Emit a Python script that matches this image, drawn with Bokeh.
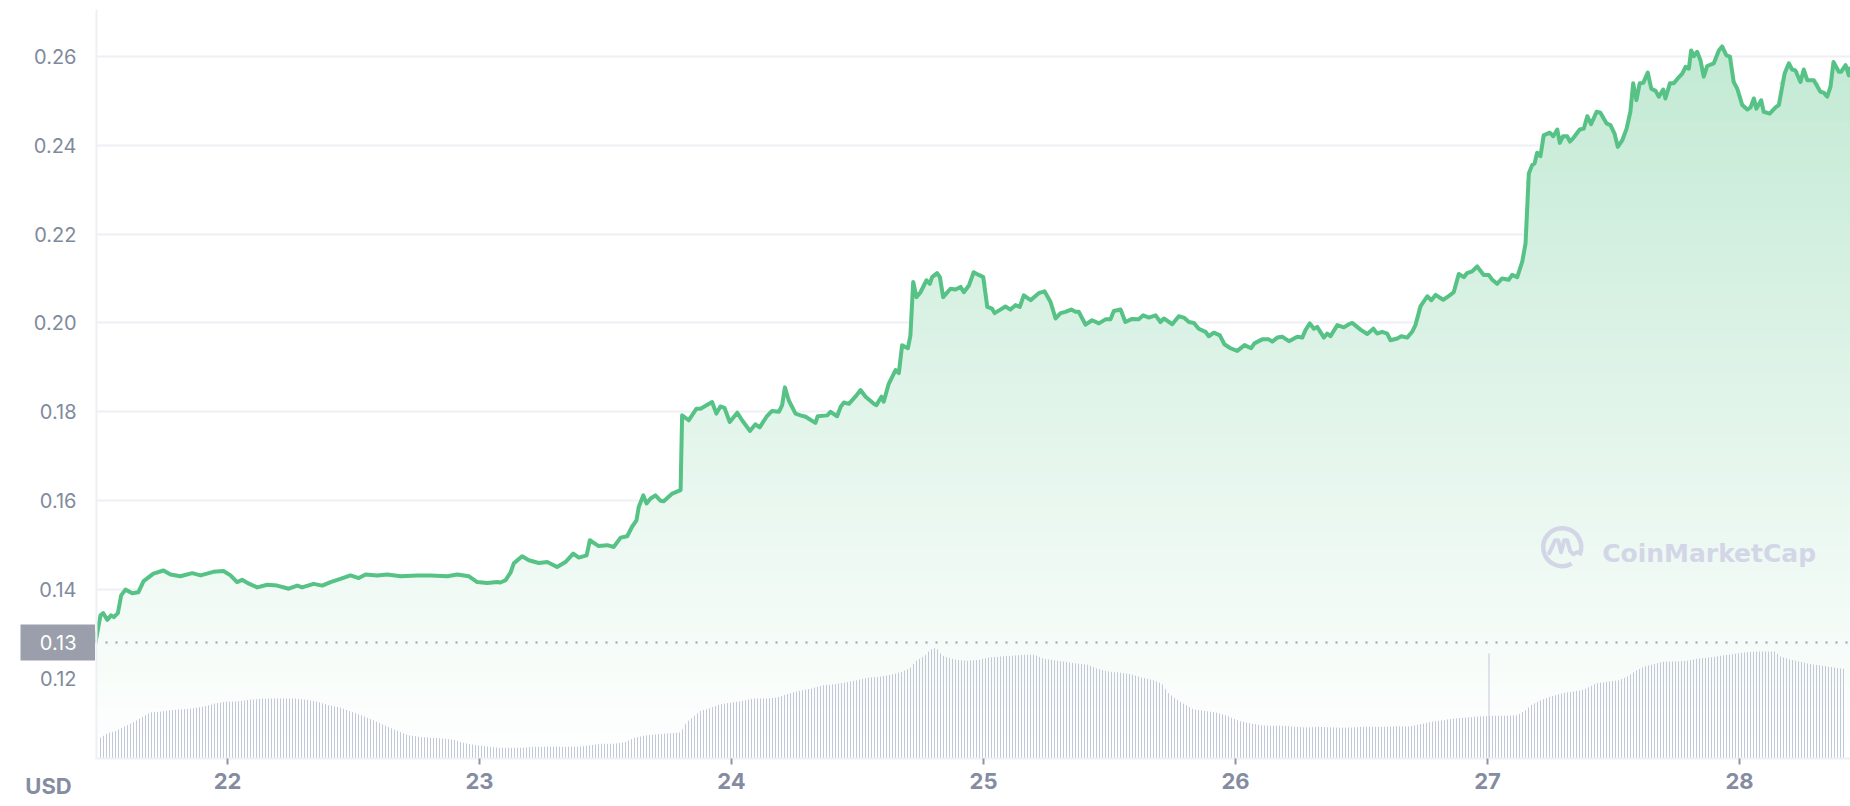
import numpy as np
from bokeh.plotting import figure
from bokeh.layouts import row
from bokeh.models import Range1d, FixedTicker, PrintfTickFormatter, Span, Label
from bokeh.core.properties import value
from bokeh.embed import file_html
from bokeh.resources import INLINE

# ---------------- data (day of month, price in USD) ----------------
price_t = [
    21.476, 21.496, 21.507, 21.523, 21.538, 21.549, 21.565, 21.578, 21.595, 21.622,
    21.646, 21.667, 21.706, 21.746, 21.774, 21.813, 21.860, 21.893, 21.944, 21.984,
    22.012, 22.038, 22.058, 22.083, 22.118, 22.158, 22.197, 22.243, 22.277, 22.296,
    22.342, 22.376, 22.409, 22.448, 22.488, 22.521, 22.548, 22.594, 22.634, 22.687,
    22.753, 22.806, 22.872, 22.912, 22.958, 22.991, 23.031, 23.070,
    23.083, 23.103, 23.123, 23.136, 23.169, 23.196, 23.235, 23.269, 23.308, 23.341,
    23.372, 23.394, 23.425, 23.438, 23.473, 23.507, 23.533, 23.560, 23.586, 23.606,
    23.623, 23.632, 23.650, 23.663, 23.679, 23.698, 23.718, 23.731, 23.765, 23.798,
    23.804, 23.830, 23.861, 23.877, 23.923, 23.940, 23.956, 23.972, 23.993, 24.023,
    24.042, 24.073, 24.095, 24.112, 24.139, 24.161, 24.188, 24.201, 24.212, 24.227,
    24.254, 24.274, 24.294, 24.333, 24.342, 24.380, 24.393, 24.419, 24.433,
    24.446, 24.466, 24.496, 24.512, 24.532, 24.565, 24.575, 24.595, 24.604, 24.624,
    24.651, 24.664, 24.677, 24.700, 24.710, 24.721, 24.734, 24.750, 24.774, 24.787,
    24.796, 24.816, 24.827, 24.840, 24.869, 24.889, 24.909, 24.922, 24.942, 24.961,
    24.981, 24.999, 25.015, 25.034, 25.044, 25.067, 25.087, 25.107, 25.127, 25.144,
    25.160, 25.187, 25.219, 25.242, 25.266, 25.286, 25.306, 25.325, 25.348, 25.365,
    25.378, 25.405, 25.431, 25.458, 25.484, 25.504, 25.517, 25.544, 25.563, 25.590,
    25.616, 25.634, 25.656, 25.683, 25.702,
    25.716, 25.749, 25.775, 25.795, 25.815, 25.835, 25.854, 25.881, 25.894, 25.914,
    25.938, 25.956, 25.980, 26.007, 26.036, 26.062, 26.075, 26.106, 26.132, 26.146,
    26.166, 26.185, 26.212, 26.245, 26.265, 26.278, 26.295, 26.311, 26.324, 26.351,
    26.364, 26.377, 26.404, 26.430, 26.450, 26.463, 26.496, 26.523, 26.547, 26.562,
    26.582, 26.602, 26.615, 26.642, 26.658, 26.681, 26.701, 26.714, 26.734, 26.761,
    26.777, 26.794, 26.824, 26.847, 26.866, 26.886, 26.906, 26.919, 26.939, 26.959,
    26.985, 27.005, 27.019, 27.038, 27.058, 27.084, 27.098, 27.118, 27.138, 27.151,
    27.164, 27.177, 27.187, 27.197, 27.210, 27.223, 27.247, 27.261, 27.277, 27.287,
    27.300, 27.316, 27.327, 27.342, 27.366, 27.382, 27.396, 27.411, 27.433, 27.448,
    27.472, 27.488, 27.504, 27.517, 27.535, 27.552, 27.567, 27.578, 27.591, 27.604,
    27.618, 27.636, 27.650, 27.667, 27.680, 27.697, 27.706, 27.724, 27.739, 27.755,
    27.773, 27.786, 27.799, 27.808, 27.819, 27.832, 27.845, 27.858, 27.872, 27.898,
    27.918, 27.931, 27.948, 27.962, 27.977, 27.991, 28.011, 28.031, 28.044, 28.057,
    28.067, 28.086, 28.096, 28.120, 28.143, 28.156, 28.179, 28.196, 28.209, 28.222,
    28.242, 28.255, 28.269, 28.295, 28.321, 28.334, 28.348, 28.361, 28.373, 28.394,
    28.403, 28.421, 28.434, 28.440,
]
price_v = [
    0.1281, 0.1342, 0.1347, 0.1332, 0.1342, 0.1338, 0.1347, 0.1387, 0.1400, 0.1392,
    0.1394, 0.1419, 0.1436, 0.1443, 0.1434, 0.1430, 0.1437, 0.1432, 0.1440, 0.1442,
    0.1432, 0.1417, 0.1422, 0.1414, 0.1405, 0.1411, 0.1409, 0.1402, 0.1409, 0.1405,
    0.1413, 0.1409, 0.1417, 0.1424, 0.1432, 0.1426, 0.1434, 0.1432, 0.1434, 0.1430,
    0.1432, 0.1432, 0.1430, 0.1434, 0.1430, 0.1417, 0.1415, 0.1417,
    0.1416, 0.1421, 0.1438, 0.1459, 0.1475, 0.1466, 0.1460, 0.1462, 0.1451, 0.1462,
    0.1481, 0.1472, 0.1477, 0.1511, 0.1498, 0.1500, 0.1496, 0.1517, 0.1520, 0.1542,
    0.1556, 0.1586, 0.1612, 0.1594, 0.1605, 0.1612, 0.1600, 0.1599, 0.1616, 0.1624,
    0.1792, 0.1781, 0.1807, 0.1807, 0.1822, 0.1796, 0.1812, 0.1809, 0.1777, 0.1798,
    0.1781, 0.1757, 0.1772, 0.1765, 0.1789, 0.1802, 0.1800, 0.1815, 0.1855, 0.1826,
    0.1796, 0.1792, 0.1789, 0.1775, 0.1790, 0.1792, 0.1800, 0.1790, 0.1811,
    0.1821, 0.1818, 0.1837, 0.1849, 0.1834, 0.1818, 0.1815, 0.1834, 0.1823, 0.1863,
    0.1894, 0.1887, 0.1950, 0.1943, 0.1972, 0.2092, 0.2058, 0.2069, 0.2096, 0.2088,
    0.2103, 0.2112, 0.2103, 0.2058, 0.2077, 0.2075, 0.2081, 0.2069, 0.2084, 0.2114,
    0.2108, 0.2103, 0.2036, 0.2032, 0.2022, 0.2030, 0.2037, 0.2030, 0.2040, 0.2036,
    0.2062, 0.2051, 0.2067, 0.2071, 0.2047, 0.2010, 0.2022, 0.2025, 0.2030, 0.2025,
    0.2025, 0.1996, 0.2006, 0.1999, 0.2008, 0.2008, 0.2027, 0.2030, 0.2002, 0.2009,
    0.2008, 0.2017, 0.2012, 0.2017, 0.2002,
    0.2010, 0.1997, 0.2015, 0.2012, 0.2002, 0.2000, 0.1987, 0.1980, 0.1970, 0.1978,
    0.1972, 0.1952, 0.1943, 0.1937, 0.1950, 0.1943, 0.1954, 0.1963, 0.1963, 0.1958,
    0.1967, 0.1969, 0.1959, 0.1969, 0.1967, 0.1984, 0.1999, 0.1987, 0.1991, 0.1967,
    0.1976, 0.1970, 0.1995, 0.1990, 0.1997, 0.2000, 0.1985, 0.1975, 0.1987, 0.1976,
    0.1980, 0.1976, 0.1961, 0.1965, 0.1970, 0.1967, 0.1980, 0.1995, 0.2037, 0.2060,
    0.2051, 0.2063, 0.2052, 0.2061, 0.2069, 0.2110, 0.2103, 0.2112, 0.2116, 0.2127,
    0.2108, 0.2108, 0.2097, 0.2088, 0.2100, 0.2097, 0.2108, 0.2103, 0.2138, 0.2179,
    0.2336, 0.2355, 0.2359, 0.2383, 0.2375, 0.2422, 0.2428, 0.2420, 0.2435, 0.2405,
    0.2420, 0.2420, 0.2408, 0.2417, 0.2435, 0.2437, 0.2465, 0.2447, 0.2475, 0.2473,
    0.2449, 0.2445, 0.2426, 0.2396, 0.2411, 0.2437, 0.2475, 0.2539, 0.2501, 0.2539,
    0.2540, 0.2563, 0.2527, 0.2522, 0.2509, 0.2525, 0.2505, 0.2539, 0.2539, 0.2550,
    0.2561, 0.2576, 0.2572, 0.2613, 0.2600, 0.2610, 0.2591, 0.2554, 0.2578, 0.2584,
    0.2613, 0.2622, 0.2602, 0.2599, 0.2542, 0.2527, 0.2490, 0.2480, 0.2485, 0.2505,
    0.2482, 0.2501, 0.2475, 0.2471, 0.2485, 0.2490, 0.2561, 0.2584, 0.2570, 0.2568,
    0.2542, 0.2570, 0.2546, 0.2546, 0.2520, 0.2518, 0.2509, 0.2531, 0.2587, 0.2565,
    0.2565, 0.2580, 0.2557, 0.2576,
]

# 24h volume (relative units)
vol_t = [
    21.490, 21.524, 21.558, 21.591, 21.625, 21.659, 21.693, 21.726, 21.772, 21.817,
    21.861, 21.907, 21.952, 21.997, 22.042, 22.087, 22.132, 22.177, 22.222, 22.267,
    22.312, 22.357, 22.402, 22.447, 22.492, 22.537, 22.583, 22.627, 22.673, 22.717,
    22.763, 22.808, 22.853, 22.898, 22.943, 22.988, 23.033, 23.078, 23.123, 23.168,
    23.213, 23.258, 23.303, 23.348, 23.393, 23.438, 23.483, 23.528, 23.573, 23.618,
    23.663, 23.708, 23.754, 23.798, 23.821, 23.844, 23.877, 23.911, 23.956, 24.001,
    24.046, 24.091, 24.137, 24.181, 24.227, 24.271, 24.317, 24.362, 24.407, 24.452,
    24.497, 24.542, 24.587, 24.632, 24.677, 24.711, 24.733, 24.767, 24.789, 24.812,
    24.835, 24.857, 24.891, 24.936, 24.981, 25.021, 25.066, 25.111, 25.156, 25.202,
    25.235, 25.280, 25.325, 25.370, 25.415, 25.449, 25.494, 25.539, 25.585, 25.629,
    25.675, 25.708, 25.731, 25.765, 25.798, 25.832, 25.877, 25.922, 25.967, 26.012,
    26.057, 26.102, 26.147, 26.192, 26.237, 26.283, 26.327, 26.373, 26.417, 26.463,
    26.508, 26.553, 26.598, 26.643, 26.688, 26.733, 26.778, 26.823, 26.868, 26.913,
    26.958, 27.026, 27.071, 27.116, 27.150, 27.172, 27.206, 27.251, 27.296, 27.341,
    27.386, 27.431, 27.476, 27.521, 27.555, 27.589, 27.623, 27.656, 27.701, 27.746,
    27.791, 27.836, 27.881, 27.927, 27.972, 28.017, 28.061, 28.107, 28.141, 28.163,
    28.197, 28.242, 28.287, 28.332, 28.377, 28.422,
]
vol_v = [
    20.0, 25.3, 27.7, 32.0, 36.0, 41.0, 46.0, 46.7, 48.3, 49.3,
    50.0, 52.0, 55.3, 56.7, 57.3, 58.7, 59.7, 60.0, 60.0, 60.0,
    58.7, 56.7, 53.3, 51.0, 46.7, 42.7, 37.7, 32.7, 27.7, 23.3,
    21.7, 20.7, 20.0, 18.7, 15.3, 13.3, 12.0, 10.7, 10.7, 10.7,
    11.7, 11.7, 11.7, 11.7, 11.7, 13.3, 14.7, 14.7, 16.0, 21.0,
    23.3, 24.3, 25.3, 26.0, 36.0, 41.0, 47.7, 50.0, 54.3, 56.0,
    57.7, 60.0, 60.0, 61.0, 65.0, 67.7, 70.0, 73.3, 74.3, 76.0,
    78.3, 80.7, 81.7, 83.7, 86.7, 91.0, 97.7, 102.7, 108.7, 111.0,
    103.3, 101.0, 98.7, 97.7, 98.7, 101.0, 102.0, 102.7, 103.7, 103.7,
    100.0, 98.3, 96.7, 95.0, 93.7, 90.0, 87.0, 86.0, 84.3, 81.0,
    78.3, 75.0, 66.0, 59.3, 54.3, 49.3, 47.7, 46.0, 42.7, 37.7,
    35.3, 33.3, 32.7, 32.7, 31.7, 31.0, 31.7, 31.3, 30.7, 31.0,
    31.7, 31.7, 31.7, 32.3, 32.0, 34.3, 36.7, 38.3, 40.0, 41.0,
    42.0, 42.7, 42.7, 43.3, 47.7, 53.3, 57.7, 62.0, 65.3, 67.0,
    69.3, 75.3, 76.7, 78.3, 82.0, 87.7, 92.0, 94.3, 97.0, 97.0,
    97.7, 100.0, 101.0, 102.7, 104.3, 106.0, 107.0, 107.0, 107.0, 102.0,
    99.3, 96.7, 94.3, 92.7, 91.0, 89.3,
]
spike_t = [27.006]
spike_v = [105.0]

x_ticks = [22, 23, 24, 25, 26, 27, 28]
y_ticks = [0.12, 0.14, 0.16, 0.18, 0.20, 0.22, 0.24, 0.26]
currency = "USD"

# ---------------- styling ----------------
FONT = "Inter"
GREEN_LINE = "#56c285"
GREEN_RGB = (76, 191, 127)
GRID = "#eff0f5"
LABEL = "#808a9d"
XLABEL = "#858ca2"
VOL = "#c3c8d8"
WM = "#d3d6e6"
TAG = "#9a9fab"

W, H = 1850, 806
LEFT, TOP, BOTTOM = 95, 9, 48
PX_DAY = 252.0
PX_USD = 88.9 / 0.02
X0 = 22 + (LEFT - 227) / PX_DAY
X1 = 22 + (W - 227) / PX_DAY
Y1 = 0.27051
Y0 = Y1 - (H - TOP - BOTTOM) / PX_USD

yr = Range1d(Y0, Y1)

def style_xaxis(ax):
    ax.axis_line_color = GRID
    ax.axis_line_width = 2
    ax.major_tick_line_color = "#8c93a6"
    ax.major_tick_line_width = 2
    ax.major_tick_out = 6
    ax.major_tick_in = 0
    ax.minor_tick_line_color = None
    ax.major_label_standoff = 8
    ax.major_label_text_font = FONT
    ax.major_label_text_font_size = "22px"
    ax.major_label_text_font_style = "bold"
    ax.major_label_text_color = XLABEL

# ---------------- main chart ----------------
p = figure(width=W - LEFT, height=H, output_backend="svg", toolbar_location=None,
           x_range=Range1d(X0, X1), y_range=yr, y_axis_location=None,
           min_border_left=0, min_border_right=0, min_border_top=TOP,
           min_border_bottom=BOTTOM, outline_line_color=None,
           background_fill_color="white", border_fill_color="white")
p.extra_y_ranges = {"vol": Range1d(0, H - TOP - BOTTOM)}

# gradient area under the price line: opaque stacked layers, lightest at bottom
pt = np.array(price_t)
pv = np.array(price_v)
N = 60
levels = np.linspace(Y0, Y1, N + 1)
AMAX = 0.355
for i in range(N):
    a = AMAX * (i + 0.5) / N
    col = "#%02x%02x%02x" % tuple(int(round(255 - a * (255 - c))) for c in GREEN_RGB)
    lev = levels[i]
    p.varea(x=pt, y1=np.full(len(pt), lev), y2=np.maximum(pv, lev),
            fill_color=col, fill_alpha=1.0)

# volume (hatched to look like thin bars)
p.varea(x=vol_t, y1=[0] * len(vol_t), y2=vol_v, y_range_name="vol",
        fill_color=None, fill_alpha=0, hatch_pattern="vertical_line",
        hatch_color=VOL, hatch_scale=3, hatch_weight=1)
p.segment(x0=spike_t, y0=[0] * len(spike_t), x1=spike_t, y1=spike_v,
          y_range_name="vol", line_color=VOL, line_width=1)

# opening price reference line
p.add_layout(Span(location=price_v[0], dimension="width", line_color="#9ba0ad",
                  line_width=2, line_dash="2 8"))
# left edge line of the chart
p.add_layout(Span(location=X0, dimension="height", line_color=GRID, line_width=4))

# price line
p.line(pt, pv, line_color=GREEN_LINE, line_width=4, line_join="round")

# grid and x axis
p.xgrid.visible = False
p.ygrid.ticker = FixedTicker(ticks=y_ticks)
p.ygrid.grid_line_color = GRID
p.ygrid.grid_line_width = 2

p.xaxis.ticker = FixedTicker(ticks=x_ticks)
p.xaxis.formatter = PrintfTickFormatter(format="%d")
style_xaxis(p.xaxis[0])

# watermark
def fx(px):
    return X0 + (px - LEFT) / PX_DAY
def fy(py):
    return Y1 - (py - TOP) / PX_USD

cx, cy = fx(1561.7), fy(546.7)
p.arc(x=[cx], y=[cy], radius=19, radius_units="screen",
      start_angle=float(np.deg2rad(-25)), end_angle=float(np.deg2rad(300)),
      direction="anticlock", line_color=WM, line_width=4.5)
wave_dx = [-13, -7, -4, -1, 2, 5, 8, 11, 15]
wave_dy = [-6, 7, 7, -5, 7, 7, -4, -7, -5]
p.line([cx + d / PX_DAY for d in wave_dx], [cy + d / PX_USD for d in wave_dy],
       line_color=WM, line_width=4, line_join="round", line_cap="round")
p.add_layout(Label(x=1506.7, y=204.7, x_units="screen", y_units="screen",
                   text="CoinMarketCap", text_align="left", text_baseline="alphabetic",
                   text_color=WM, text_font="DejaVu Sans", text_font_size="25px",
                   text_font_style="bold"))

# ---------------- left strip: price scale labels, open tag, currency ----------------
q = figure(width=LEFT, height=H, output_backend="svg", toolbar_location=None,
           x_range=Range1d(0, LEFT), y_range=yr, y_axis_location=None,
           min_border_left=0, min_border_right=0, min_border_top=TOP,
           min_border_bottom=BOTTOM, outline_line_color=None,
           background_fill_color="white", border_fill_color="white")
q.xgrid.visible = False
q.ygrid.visible = False
q.xaxis.ticker = FixedTicker(ticks=[48])
q.xaxis.major_label_overrides = {48: currency}
style_xaxis(q.xaxis[0])
q.xaxis.axis_line_color = None
q.xaxis.major_tick_line_color = None

q.text(x=[76] * len(y_ticks), y=y_ticks, text=[f"{v:.2f}" for v in y_ticks],
       text_align="right", text_baseline="middle", text_color=LABEL,
       text_font=value(FONT), text_font_size="20px")

q.rect(x=[58], y=[price_v[0]], width=76, height=36, height_units="screen",
       fill_color=TAG, line_color=None)
q.text(x=[76], y=[price_v[0]], text=[f"{price_v[0]:.2f}"], text_align="right",
       text_baseline="middle", text_color="white", text_font=value(FONT),
       text_font_size="20px")

layout = row(q, p)
open("out.html", "w").write(file_html(layout, INLINE))
